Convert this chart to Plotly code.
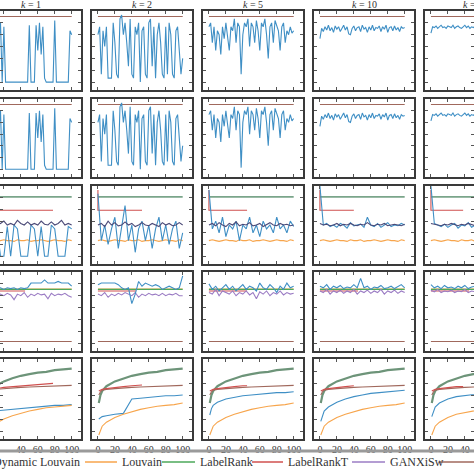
import plotly.graph_objects as go

# ---------------- data ----------------
ks = ["1", "2", "5", "10", "20"]
x_fine = list(range(0, 101, 2))      # rows 1-2
x_mid = list(range(0, 101, 4))       # rows 3-4
x_curve = [1, 3, 5, 10, 20, 30, 40, 50, 60, 70, 80, 90, 100]
x_ticks = [0, 20, 40, 60, 80, 100]

top_level = 0.93

r1_blue_k1 = [0.75,0.85,0.3,0.8,0.7,0.2,0.85,0.6,0.85,0.1,0.8,0.1,0.1,0.1,0.1,0.1,0.1,0.1,0.1,0.1,0.1,0.1,0.1,0.1,0.1,
              0.82,0.1,0.1,0.1,0.82,0.5,0.85,0.45,0.8,0.15,0.1,0.1,0.1,0.1,0.1,0.88,0.1,0.1,0.1,0.1,0.1,0.1,0.1,0.1,0.75,0.7]
r1_blue_k2 = [0.7,0.8,0.2,0.75,0.55,0.8,0.15,0.15,0.15,0.85,0.6,0.2,0.15,0.9,0.95,0.7,0.85,0.6,0.3,0.9,0.2,0.15,0.8,0.7,0.85,
              0.1,0.75,0.8,0.2,0.15,0.85,0.9,0.3,0.8,0.15,0.7,0.85,0.6,0.2,0.15,0.8,0.2,0.85,0.7,0.2,0.15,0.75,0.8,0.55,0.2,0.4]
r1_blue_k5 = [0.8,0.85,0.6,0.8,0.5,0.75,0.7,0.45,0.8,0.65,0.85,0.7,0.5,0.8,0.75,0.9,0.6,0.85,0.8,0.2,0.7,0.85,0.8,0.9,0.55,
              0.85,0.8,0.6,0.88,0.75,0.5,0.85,0.8,0.9,0.7,0.4,0.8,0.85,0.6,0.88,0.8,0.75,0.5,0.8,0.85,0.6,0.75,0.7,0.8,0.72,0.75]
r1_blue_k10 = [0.65,0.78,0.74,0.8,0.76,0.82,0.75,0.79,0.73,0.81,0.77,0.8,0.74,0.78,0.82,0.76,0.8,0.71,0.7,0.78,0.81,0.75,0.79,0.8,0.74,
               0.82,0.77,0.79,0.73,0.8,0.76,0.82,0.75,0.79,0.78,0.81,0.74,0.8,0.77,0.82,0.73,0.79,0.8,0.75,0.81,0.76,0.79,0.74,0.8,0.78,0.79]
r1_blue_k20 = [0.72,0.8,0.79,0.81,0.78,0.8,0.82,0.79,0.8,0.78,0.81,0.8,0.79,0.82,0.78,0.8,0.81,0.79,0.78,0.8,0.82,0.79,0.81,0.78,0.8,
               0.79,0.81,0.8,0.78,0.82,0.79,0.8,0.81,0.78,0.8,0.79,0.82,0.8,0.78,0.81,0.79,0.8,0.82,0.78,0.8,0.81,0.79,0.8,0.78,0.81,0.8]
r2_blue_k5 = [0.8,0.85,0.6,0.8,0.5,0.75,0.7,0.45,0.8,0.65,0.85,0.7,0.5,0.8,0.75,0.9,0.6,0.85,0.8,0.12,0.7,0.85,0.8,0.9,0.55,
              0.85,0.8,0.6,0.88,0.75,0.5,0.85,0.8,0.9,0.7,0.4,0.8,0.85,0.6,0.88,0.8,0.75,0.5,0.8,0.85,0.6,0.75,0.7,0.8,0.72,0.75]

r3_green = 0.86
r3_red = [0.69, 0.69]
r3_red_end = [78, 52, 45, 40, 38]
r3_blue_k1 = [0.45,0.1,0.5,0.45,0.1,0.1,0.48,0.1,0.5,0.45,0.1,0.1,0.1,0.5,0.45,0.1,0.48,0.1,0.1,0.5,0.45,0.1,0.1,0.1,0.48,0.45]
r3_blue_k2 = [0.9,0.3,0.5,0.25,0.45,0.6,0.2,0.45,0.75,0.3,0.5,0.15,0.45,0.55,0.3,0.5,0.2,0.45,0.6,0.3,0.5,0.25,0.45,0.55,0.2,0.4]
r3_blue_k5 = [0.95,0.45,0.55,0.4,0.6,0.35,0.5,0.45,0.55,0.3,0.5,0.45,0.6,0.4,0.5,0.35,0.55,0.45,0.5,0.4,0.6,0.45,0.5,0.4,0.55,0.48]
r3_blue_k10 = [1.0,0.5,0.52,0.48,0.5,0.47,0.52,0.5,0.46,0.53,0.49,0.5,0.51,0.47,0.6,0.5,0.48,0.52,0.47,0.5,0.53,0.48,0.5,0.49,0.52,0.5]
r3_blue_k20 = [1.0,0.52,0.5,0.48,0.51,0.47,0.5,0.52,0.46,0.5,0.49,0.53,0.47,0.5,0.52,0.48,0.5,0.47,0.51,0.49,0.5,0.48,0.52,0.5,0.47,0.5]
r3_purple_k1 = [0.52,0.5,0.56,0.5,0.52,0.55,0.5,0.52,0.5,0.56,0.52,0.5,0.54,0.5,0.52,0.5,0.55,0.51,0.5,0.54,0.5,0.52,0.56,0.5,0.52,0.5]
r3_purple_k2 = [0.5,0.52,0.48,0.55,0.5,0.53,0.49,0.5,0.54,0.5,0.52,0.48,0.5,0.53,0.5,0.49,0.52,0.5,0.48,0.53,0.5,0.52,0.49,0.5,0.53,0.5]
r3_purple_k5 = [0.5,0.52,0.49,0.53,0.5,0.48,0.52,0.5,0.54,0.49,0.51,0.5,0.53,0.49,0.5,0.52,0.48,0.5,0.53,0.5,0.49,0.52,0.5,0.51,0.49,0.5]
r3_purple_k10 = [0.52,0.5,0.51,0.49,0.5,0.52,0.49,0.51,0.5,0.52,0.5,0.49,0.51,0.5,0.53,0.5,0.49,0.51,0.5,0.52,0.49,0.5,0.51,0.5,0.49,0.51]
r3_purple_k20 = [0.52,0.51,0.5,0.49,0.51,0.5,0.52,0.5,0.49,0.51,0.5,0.52,0.5,0.49,0.51,0.5,0.52,0.49,0.5,0.51,0.5,0.49,0.51,0.5,0.52,0.5]
r3_orange = [0.3,0.31,0.3,0.29,0.3,0.31,0.3,0.3,0.29,0.31,0.3,0.3,0.31,0.29,0.3,0.3,0.31,0.3,0.29,0.3,0.31,0.3,0.3,0.29,0.31,0.3]

r4_blue_k1 = [0.8,0.78,0.8,0.79,0.8,0.78,0.8,0.79,0.8,0.78,0.8,0.79,0.8,0.86,0.86,0.86,0.86,0.9,0.86,0.86,0.86,0.88,0.86,0.86,0.86,0.82]
r4_blue_k2 = [0.84,0.86,0.86,0.86,0.86,0.86,0.84,0.8,0.78,0.8,0.6,0.72,0.88,0.82,0.86,0.84,0.82,0.84,0.82,0.78,0.8,0.82,0.8,0.78,0.8,0.95]
r4_blue_k5 = [0.85,0.78,0.82,0.76,0.8,0.84,0.78,0.82,0.76,0.8,0.84,0.78,0.82,0.8,0.76,0.86,0.8,0.78,0.84,0.8,0.74,0.82,0.78,0.86,0.8,0.82]
r4_blue_k10 = [0.82,0.8,0.84,0.78,0.82,0.8,0.83,0.79,0.81,0.8,0.84,0.8,0.92,0.8,0.82,0.78,0.81,0.8,0.83,0.79,0.8,0.82,0.79,0.81,0.84,0.8]
r4_blue_k20 = [0.84,0.8,0.82,0.79,0.83,0.8,0.81,0.79,0.82,0.8,0.83,0.79,0.81,0.82,0.8,0.84,0.79,0.81,0.8,0.82,0.79,0.81,0.83,0.8,0.82,0.8]
r4_purple_k1 = [0.72,0.7,0.74,0.68,0.72,0.7,0.73,0.71,0.65,0.72,0.7,0.74,0.68,0.72,0.7,0.73,0.71,0.72,0.66,0.73,0.7,0.72,0.71,0.73,0.7,0.68]
r4_purple_k2 = [0.72,0.7,0.74,0.68,0.72,0.7,0.73,0.71,0.74,0.72,0.7,0.74,0.68,0.72,0.7,0.73,0.71,0.72,0.7,0.73,0.7,0.72,0.71,0.73,0.7,0.7]
r4_purple_k5 = [0.74,0.72,0.78,0.7,0.76,0.74,0.72,0.76,0.7,0.74,0.72,0.76,0.71,0.74,0.66,0.75,0.72,0.76,0.7,0.74,0.72,0.76,0.71,0.74,0.72,0.73]
r4_purple_k10 = [0.76,0.74,0.78,0.72,0.76,0.74,0.77,0.73,0.76,0.74,0.78,0.72,0.76,0.74,0.77,0.73,0.76,0.74,0.78,0.72,0.76,0.74,0.77,0.73,0.76,0.74]
r4_purple_k20 = [0.77,0.75,0.78,0.74,0.76,0.75,0.77,0.74,0.76,0.75,0.78,0.74,0.76,0.75,0.77,0.74,0.76,0.75,0.78,0.74,0.76,0.75,0.77,0.74,0.76,0.75]
r4_green = 0.78
r4_orange = 0.785
r4_red = 0.76
r4_brown = 0.12

r5_green = [0.45,0.55,0.6,0.66,0.72,0.76,0.79,0.81,0.83,0.84,0.86,0.87,0.88]
r5_red = [0.6,0.61,0.62,0.63,0.645,0.655,0.665,0.675,0.685,0.695,0.705,0.71,0.72]
r5_brown = [0.55,0.59,0.61,0.62,0.63,0.64,0.645,0.65,0.655,0.66,0.665,0.665,0.67]
r5_blue_k1 = [0.3,0.33,0.34,0.35,0.36,0.37,0.38,0.39,0.4,0.41,0.42,0.42,0.43]
r5_blue_k2 = [0.25,0.27,0.28,0.29,0.31,0.32,0.5,0.51,0.52,0.53,0.54,0.54,0.55]
r5_blue_k5 = [0.3,0.38,0.42,0.46,0.5,0.52,0.54,0.55,0.56,0.57,0.58,0.58,0.59]
r5_blue_k10 = [0.22,0.3,0.35,0.4,0.46,0.5,0.53,0.55,0.57,0.58,0.59,0.6,0.61]
r5_blue_k20 = [0.28,0.35,0.4,0.45,0.5,0.53,0.55,0.57,0.58,0.59,0.6,0.61,0.62]
r5_orange_k1 = [0.05,0.1,0.14,0.19,0.25,0.29,0.32,0.35,0.37,0.39,0.4,0.41,0.42]
r5_orange = [0.05,0.12,0.16,0.21,0.27,0.31,0.34,0.37,0.39,0.41,0.42,0.43,0.45]

names = ["Dynamic Louvain", "Louvain", "LabelRank", "LabelRankT", "GANXiSw", "Infomap"]
colors = ["#3f8fc5", "#f7a54c", "#4da85a", "#d0504f", "#9b7cc4", "#a0685c"]

# --------------- layout helpers ---------------
W = 474
col_px = [(-19 + 111 * c, 81 + 111 * c) for c in range(5)]
row_px = [(11, 90), (99, 177), (186, 264), (272, 351), (359, 439)]
XR = (-7.0, 111.0)
scale = (XR[1] - XR[0]) / 100.0
leg_line_px = [(-40, -8), (85, 117), (162, 195), (252, 283), (352, 385), (440, 474)]
LEG_Y = 462

fig = go.Figure()
BLUE, ORANGE, GREEN, RED, PURPLE, BROWN = range(6)

def add(n, xs, ys, s, width=1.1, color=None):
    sfx = "" if n == 1 else str(n)
    fig.add_trace(go.Scatter(x=xs, y=ys, mode="lines", showlegend=False,
                             line=dict(color=color or colors[s], width=width),
                             xaxis="x" + sfx, yaxis="y" + sfx, hoverinfo="skip"))

r1 = [r1_blue_k1, r1_blue_k2, r1_blue_k5, r1_blue_k10, r1_blue_k20]
r2 = [r1_blue_k1, r1_blue_k2, r2_blue_k5, r1_blue_k10, r1_blue_k20]
r3b = [r3_blue_k1, r3_blue_k2, r3_blue_k5, r3_blue_k10, r3_blue_k20]
r3p = [r3_purple_k1, r3_purple_k2, r3_purple_k5, r3_purple_k10, r3_purple_k20]
r4b = [r4_blue_k1, r4_blue_k2, r4_blue_k5, r4_blue_k10, r4_blue_k20]
r4p = [r4_purple_k1, r4_purple_k2, r4_purple_k5, r4_purple_k10, r4_purple_k20]
r5b = [r5_blue_k1, r5_blue_k2, r5_blue_k5, r5_blue_k10, r5_blue_k20]

for c in range(5):
    for r, arr in ((0, r1), (1, r2)):
        n = r * 5 + c + 1
        add(n, [0, 100], [top_level, top_level], BROWN)
        add(n, x_fine, arr[c], BLUE)
    n = 10 + c + 1
    add(n, [0, 100], [r3_green, r3_green], GREEN, 1.8, "#7aa58a")
    add(n, x_mid, r3_orange, ORANGE)
    add(n, [0, 0, r3_red_end[c]], [0.95, r3_red[0], r3_red[1]], RED)
    add(n, x_mid, r3b[c], BLUE)
    add(n, x_mid, r3p[c], PURPLE, 1.1, "#4b4a78")
    n = 15 + c + 1
    add(n, [0, 100], [r4_brown, r4_brown], BROWN)
    add(n, [0, 100], [r4_orange, r4_orange], ORANGE)
    add(n, [0, 100], [r4_green, r4_green], GREEN)
    add(n, [0, 45], [r4_red, r4_red], RED)
    add(n, x_mid, r4p[c], PURPLE)
    add(n, x_mid, r4b[c], BLUE)
    n = 20 + c + 1
    red_end = r3_red_end[c]
    rx = [x for x in x_curve if x <= red_end] + [red_end]
    ry = r5_red[:len(rx) - 1] + [r5_red[len(rx) - 2]]
    add(n, x_curve, r5_green, GREEN, 2.2, "#6d9479")
    add(n, x_curve, r5_brown, BROWN)
    add(n, rx, ry, RED)
    add(n, x_curve, r5b[c], BLUE)
    add(n, x_curve, r5_orange_k1 if c == 0 else r5_orange, ORANGE)

layout = {}
for r in range(5):
    for c in range(5):
        n = r * 5 + c + 1
        sfx = "" if n == 1 else str(n)
        L, R = col_px[c]
        xr0, xr1 = XR
        if L < 0:
            xr0 = XR[0] + (-L) * scale
            L = 0
        if R > W:
            xr1 = XR[0] + (W - col_px[c][0]) * scale
            R = W
        T, B = row_px[r]
        layout["xaxis" + sfx] = dict(
            domain=[L / W, R / W], range=[xr0, xr1], anchor="y" + sfx,
            showline=True, linecolor="#3a3a3a", linewidth=1.5, mirror="allticks",
            ticks="inside", ticklen=3, tickcolor="#555", tickvals=x_ticks,
            showticklabels=(r == 4), showgrid=False, zeroline=False, tickangle=0,
            tickfont=dict(family="Liberation Serif", size=10, color="#333"))
        layout["yaxis" + sfx] = dict(
            domain=[1 - B / W, 1 - T / W], range=[0, 1], anchor="x" + sfx,
            showline=True, linecolor="#3a3a3a", linewidth=1.5, mirror="allticks",
            ticks="inside", ticklen=3, tickcolor="#555",
            tickvals=[0.1, 0.25, 0.4, 0.55, 0.7, 0.85], showticklabels=False,
            showgrid=False, zeroline=False)

ann = []
for c in range(5):
    cx = (col_px[c][0] + col_px[c][1]) / 2 / W
    ann.append(dict(text="<i>k</i> = " + ks[c], x=cx, y=1 - 5 / W, xref="paper", yref="paper",
                    xanchor="center", yanchor="middle", showarrow=False,
                    font=dict(family="Liberation Serif", size=10, color="#333")))

shapes = [dict(type="line", xref="paper", yref="paper", x0=0, x1=1,
               y0=1 - 451 / W, y1=1 - 451 / W, line=dict(color="#9a9a9a", width=3))]
ly = 1 - LEG_Y / W
for i, nm in enumerate(names):
    a, b = leg_line_px[i]
    shapes.append(dict(type="line", xref="paper", yref="paper", x0=a / W, x1=b / W,
                       y0=ly, y1=ly, line=dict(color=colors[i], width=1.5)))
    if i == 0:
        ann.append(dict(text=nm, x=82 / W, y=ly, xref="paper", yref="paper",
                        xanchor="right", yanchor="middle", showarrow=False,
                        font=dict(family="Liberation Serif", size=12, color="#333")))
    else:
        ann.append(dict(text=nm, x=(b + 3) / W, y=ly, xref="paper", yref="paper",
                        xanchor="left", yanchor="middle", showarrow=False,
                        font=dict(family="Liberation Serif", size=12, color="#333")))

fig.update_layout(**layout)
fig.update_layout(
    width=W, height=W, margin=dict(l=0, r=0, t=0, b=0, autoexpand=False),
    paper_bgcolor="white", plot_bgcolor="white", annotations=ann, shapes=shapes,
    showlegend=False,
)
fig.write_html("out.html", config={"displayModeBar": False},
               post_script="document.body.style.margin='0';")
